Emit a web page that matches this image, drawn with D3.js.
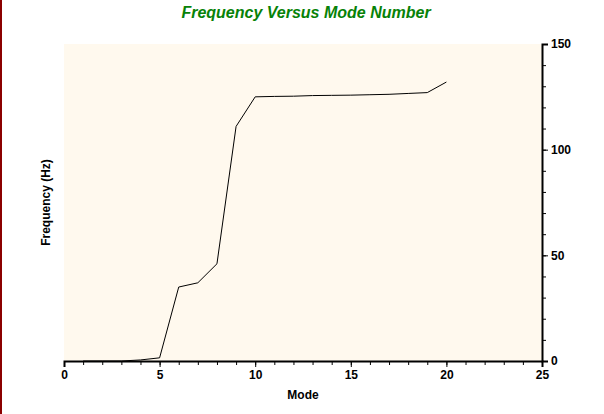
<!DOCTYPE html>
<html><head><meta charset="utf-8">
<script src="https://cdn.jsdelivr.net/npm/d3@7"></script>
<style>body{margin:0;background:#fff}svg{display:block}</style>
</head><body>
<script>
const modes = [1,2,3,4,5,6,7,8,9,10,11,12,13,14,15,16,17,18,19,20];
const freqs = [0,0,0,0.5,1.5,35,37,46,111,125,125.2,125.3,125.6,125.7,125.8,126,126.2,126.6,127,132];
const xTicks = [0,5,10,15,20,25];
const yTicks = [0,50,100,150];

const W = 604, H = 414;
const m = {left: 64, right: 62, top: 44, bottom: 53};
const svg = d3.select('body').append('svg').attr('width', W).attr('height', H)
  .style('font-family', 'Arial, "Liberation Sans", sans-serif');

svg.append('rect').attr('x', 0).attr('y', 0).attr('width', 2).attr('height', H).attr('fill', '#8b0000');

const x = d3.scaleLinear().domain([0, 25]).range([m.left, W - m.right]);
const y = d3.scaleLinear().domain([0, 150]).range([H - m.bottom, m.top]);

svg.append('rect').attr('x', x(0)).attr('y', y(150))
  .attr('width', x(25) - x(0)).attr('height', y(0) - y(150)).attr('fill', '#fff9ee');

svg.append('path').datum(modes.map((d, i) => [d, freqs[i]]))
  .attr('d', d3.line().x(d => x(d[0])).y(d => y(d[1])))
  .attr('fill', 'none').attr('stroke', '#000').attr('stroke-width', 1);

const xa = svg.append('g').attr('transform', `translate(0,${y(0)})`);
xa.call(d3.axisBottom(x).tickValues(d3.range(0, 26)).tickSize(4).tickFormat(''));
xa.call(g => g.select('.domain').remove());
svg.append('g').attr('transform', `translate(0,${y(0)})`)
  .call(d3.axisBottom(x).tickValues(xTicks).tickSize(6).tickPadding(3))
  .call(g => g.selectAll('text').attr('font-size', 12).attr('font-weight', 'bold').attr('fill', '#000'))
  .call(g => g.select('.domain').attr('stroke-width', 2));

svg.append('g').attr('transform', `translate(${x(25)},0)`)
  .call(d3.axisRight(y).tickValues(d3.range(0, 151, 10)).tickSize(4).tickFormat(''))
  .call(g => g.select('.domain').remove());
svg.append('g').attr('transform', `translate(${x(25)},0)`)
  .call(d3.axisRight(y).tickValues(yTicks).tickSize(6).tickPadding(3))
  .call(g => g.selectAll('text').attr('font-size', 12).attr('font-weight', 'bold').attr('fill', '#000'))
  .call(g => g.select('.domain').attr('stroke-width', 2));

svg.append('text').attr('x', 306).attr('y', 18).attr('text-anchor', 'middle')
  .attr('font-size', 16).attr('font-weight', 'bold').attr('font-style', 'italic')
  .attr('fill', '#078207').text('Frequency Versus Mode Number');
svg.append('text').attr('x', x(12.5)).attr('y', 399).attr('text-anchor', 'middle')
  .attr('font-size', 12).attr('font-weight', 'bold').text('Mode');
svg.append('text').attr('transform', `translate(50,${y(75)}) rotate(-90)`).attr('text-anchor', 'middle')
  .attr('font-size', 12).attr('font-weight', 'bold').text('Frequency (Hz)');
</script>
</body></html>
